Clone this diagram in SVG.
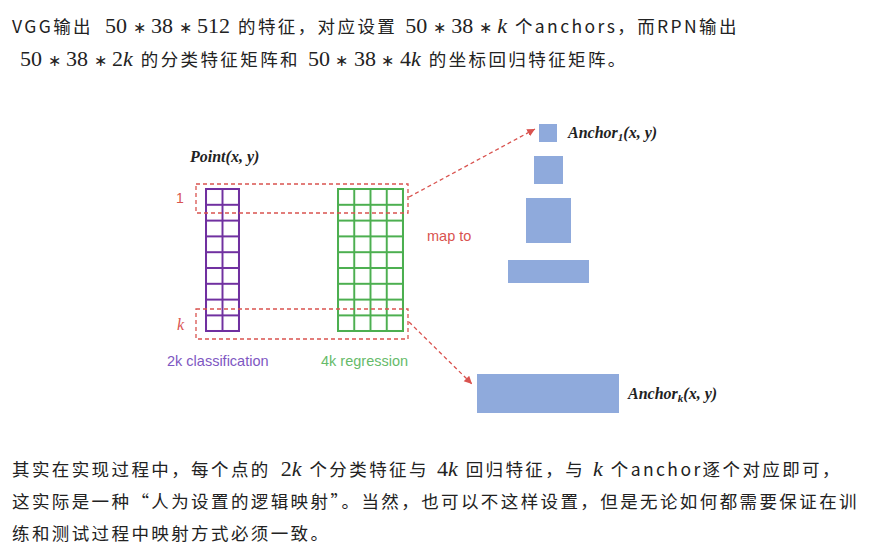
<svg xmlns="http://www.w3.org/2000/svg" width="884" height="553" viewBox="0 0 884 553">
<style>
.t{font-family:"Noto Sans CJK SC","Liberation Sans",sans-serif;font-size:17.5px;fill:#222;letter-spacing:2.4px}
.m{font-family:"Liberation Serif",serif;font-size:22px;fill:#222;letter-spacing:0}
.s{font-size:16px}
.mi{font-style:italic}
.lab{font-family:"Liberation Serif",serif;font-style:italic;font-size:16px;fill:#222}
.dash{fill:none;stroke:#d9534f;stroke-width:1.3;stroke-dasharray:4,3}
.an{fill:#8faadc}
</style>
<defs>
<marker id="ar" markerWidth="8" markerHeight="8" refX="6" refY="3" orient="auto"><path d="M0,0 L6,3 L0,6z" fill="#d9534f"/></marker>
<pattern id="pg" x="206" y="189" width="16.5" height="15.8" patternUnits="userSpaceOnUse"><rect width="16.5" height="15.8" fill="none" stroke="#7030a0" stroke-width="2"/></pattern>
<pattern id="gg" x="338" y="189" width="16.25" height="15.8" patternUnits="userSpaceOnUse"><rect width="16.25" height="15.8" fill="none" stroke="#4caf50" stroke-width="2"/></pattern>
</defs>
<rect width="884" height="553" fill="#fff"/>
<text class="t" x="12" y="33">VGG输出<tspan class="m" dx="12">50 <tspan class="s">∗</tspan> 38 <tspan class="s">∗</tspan> 512</tspan><tspan dx="8">的特征，对应设置</tspan><tspan class="m" dx="8">50 <tspan class="s">∗</tspan> 38 <tspan class="s">∗</tspan> <tspan class="mi">k</tspan></tspan><tspan dx="8">个anchors，而RPN输出</tspan></text>
<text class="t" x="12" y="66"><tspan class="m" dx="8">50 <tspan class="s">∗</tspan> 38 <tspan class="s">∗</tspan> 2<tspan class="mi">k</tspan></tspan><tspan dx="8">的分类特征矩阵和</tspan><tspan class="m" dx="8">50 <tspan class="s">∗</tspan> 38 <tspan class="s">∗</tspan> 4<tspan class="mi">k</tspan></tspan><tspan dx="8">的坐标回归特征矩阵。</tspan></text>
<g id="cls">
<rect x="206" y="189" width="33" height="142" fill="url(#pg)" stroke="#7030a0" stroke-width="2"/>
</g>
<g id="reg">
<rect x="338" y="189" width="65" height="142" fill="url(#gg)" stroke="#4caf50" stroke-width="2"/>
</g>
<g id="boxes">
<rect class="dash" x="196" y="184" width="212" height="29"/>
<rect class="dash" x="196" y="309" width="212" height="30"/>
</g>
<text class="lab" x="190" y="162" font-weight="bold">Point(x, y)</text>
<text x="176" y="203" font-family="Liberation Sans,sans-serif" font-size="14" fill="#d9534f">1</text>
<text x="177" y="330" font-family="Liberation Serif,serif" font-style="italic" font-size="16" fill="#d9534f">k</text>
<text x="167" y="366" font-family="Liberation Sans,sans-serif" font-size="14.5" fill="#7e57c2">2k classification</text>
<text x="321" y="366" font-family="Liberation Sans,sans-serif" font-size="14.5" fill="#66bb6a">4k regression</text>
<text x="427" y="241" font-family="Liberation Sans,sans-serif" font-size="14.5" fill="#d9534f">map to</text>
<g id="connectors">
<line class="dash" x1="409" y1="197" x2="535" y2="129" marker-end="url(#ar)"/>
<line class="dash" x1="409" y1="322" x2="472" y2="384" marker-end="url(#ar)"/>
</g>
<g id="anchors">
<rect class="an" x="539" y="124" width="18" height="18"/>
<rect class="an" x="534" y="156" width="29" height="28"/>
<rect class="an" x="526" y="198" width="45" height="45"/>
<rect class="an" x="508" y="260" width="81" height="23"/>
<rect class="an" x="477" y="374" width="142" height="39"/>
</g>
<text class="lab" x="568" y="138" font-weight="bold">Anchor<tspan font-size="11" dy="3">1</tspan><tspan dy="-3">(x, y)</tspan></text>
<text class="lab" x="628" y="399" font-weight="bold">Anchor<tspan font-size="11" dy="3">k</tspan><tspan dy="-3">(x, y)</tspan></text>
<text class="t" x="12" y="476">其实在实现过程中，每个点的<tspan class="m" dx="10">2<tspan class="mi">k</tspan></tspan><tspan dx="8">个分类特征与</tspan><tspan class="m" dx="8">4<tspan class="mi">k</tspan></tspan><tspan dx="8">回归特征，与</tspan><tspan class="m mi" dx="8">k</tspan><tspan dx="8">个anchor逐个对应即可，</tspan></text>
<text class="t" x="12" y="508">这实际是一种“人为设置的逻辑映射”。当然，也可以不这样设置，但是无论如何都需要保证在训</text>
<text class="t" x="12" y="540">练和测试过程中映射方式必须一致。</text>
</svg>
